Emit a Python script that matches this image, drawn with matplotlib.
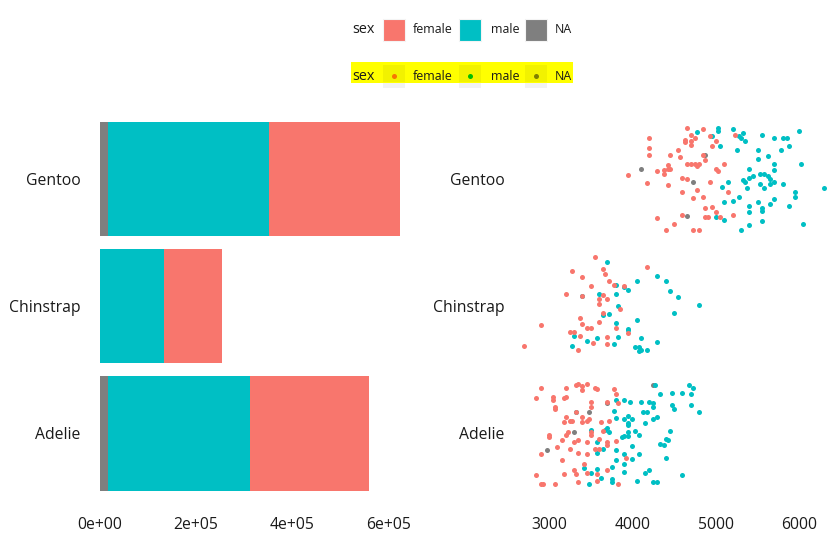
import matplotlib
matplotlib.use('Agg')
import matplotlib.pyplot as plt
from matplotlib.patches import Rectangle
import numpy as np

plt.rcParams['font.family'] = ['Open Sans', 'DejaVu Sans']

# ---------------- data ----------------
species = ['Adelie', 'Chinstrap', 'Gentoo']
sex_levels = ['female', 'male', 'NA']
sum_female = [245925, 119925, 271425]
sum_male = [295175, 133925, 334575]
sum_na = [17700, 0, 18350]
bar_ticks = [0, 200000, 400000, 600000]
bar_tick_labels = ['0e+00', '2e+05', '4e+05', '6e+05']
mass_ticks = [3000, 4000, 5000, 6000]

gentoo_female_mass = [4650, 4850, 4700, 4750, 4925, 4200, 4625, 4625, 4700, 4700,
                      5000, 5225, 4950, 4200, 4550, 4200, 4450, 4575, 4850, 4875,
                      4650, 4700, 4750, 4775, 4800, 4425, 4300, 4375, 4375, 4425,
                      4450, 5000, 5025, 5100, 3950, 4600, 4650, 4175, 4425, 4925,
                      4600, 4775, 5150, 4725, 4850, 4875, 4950, 5000, 4600, 4875,
                      4900, 5050, 5200, 4300, 4500, 4400, 4725, 4800]
gentoo_female_jit = [.40, .39, .35, .32, .34, .32, .31, .29, .30, .27,
                     .30, .35, .26, .24, .23, .19, .19, .17, .19, .15,
                     .12, .12, .12, .10, .12, .11, .06, .07, .04, .08,
                     .08, .08, .06, .12, .03, .01, .00, -.03, -.05, -.02,
                     -.10, -.09, -.10, -.15, -.14, -.23, -.22, -.26, -.28, -.30,
                     -.30, -.30, -.28, -.31, -.35, -.40, -.40, -.40]
gentoo_na_mass = [4100, 4875, 4725, 4650]
gentoo_na_jit = [0.08, 0.19, -0.02, -0.29]
gentoo_male_mass = [4775, 5025, 5025, 4950, 5200, 5325, 5275, 5300, 5350, 5050,
                    5250, 5550, 5700, 5800, 5850, 6000, 5875, 5775, 5500, 5500,
                    5625, 5700, 6025, 5400, 5700, 5450, 5400, 5525, 5575, 5625,
                    5650, 5700, 5325, 5350, 5375, 5525, 5575, 5650, 5800, 5150,
                    5075, 6300, 5950, 5950, 5275, 5200, 5100, 5500, 5400, 5550,
                    5550, 5650, 5700, 5875, 5400, 5000, 5100, 5550, 5400, 6050, 5300]
gentoo_male_jit = [.37, .40, .38, .34, .39, .36, .34, .32, .30, .26,
                   .23, .35, .32, .32, .32, .38, .26, .23, .23, .16,
                   .18, .12, .12, .08, .07, .02, .01, .04, .04, .02,
                   .00, -.02, -.01, -.02, -.07, -.04, -.07, -.04, -.04, -.02,
                   -.06, -.07, -.10, -.14, -.14, -.17, -.18, -.18, -.21, -.23,
                   -.25, -.20, -.16, -.21, -.26, -.30, -.32, -.33, -.36, -.35, -.40]

chinstrap_female_mass = [3550, 4175, 3275, 3650, 3675, 3400, 3725, 3500, 3775, 3900,
                         3200, 3400, 3650, 3700, 3600, 3600, 3850, 3650, 3375, 3600,
                         3400, 3450, 3500, 2900, 3800, 3250, 3300, 3375, 3950, 3700,
                         3525, 3700, 2700, 3350]
chinstrap_female_jit = [.39, .31, .28, .29, .25, .23, .20, .16, .17, .16,
                        .10, .08, .09, .06, .06, .02, -.02, -.05, -.09, -.12,
                        -.14, -.17, -.17, -.15, -.17, -.20, -.20, -.23, -.21, -.24,
                        -.29, -.30, -.31, -.34]
chinstrap_male_mass = [3700, 3800, 4050, 3950, 4300, 4400, 4450, 4550, 4800, 4500,
                       3600, 3800, 3400, 3825, 3650, 3725, 4050, 3800, 3950, 3950,
                       3300, 3825, 3450, 3575, 4100, 4300, 3275, 3775, 4025, 4075,
                       4075, 4100, 4175, 3900]
chinstrap_male_jit = [.35, .17, .20, .13, .24, .20, .12, .07, .01, -.05,
                      .10, .10, .08, .00, -.07, -.06, -.11, -.13, -.18, -.19,
                      -.23, -.24, -.27, -.25, -.25, -.28, -.31, -.30, -.32, -.32,
                      -.35, -.34, -.34, .15]

adelie_na_mass = [3475, 3300, 2975, 3700, 4250]
adelie_na_jit = [0.17, 0.01, -0.13, 0.24, 0.38]
adelie_female_mass = [2900, 3200, 3325, 3350, 3400, 3400, 3450, 3550, 3575, 3775,
                      3800, 2850, 3050, 3050, 3175, 3200, 3500, 3500, 3700, 3825,
                      3075, 3075, 3200, 3325, 3175, 3250, 3275, 3400, 3400, 3450,
                      3475, 3625, 3725, 3000, 3000, 3150, 3200, 3225, 3300, 3350,
                      3450, 3500, 3500, 3600, 3650, 3700, 3700, 3800, 3100, 3250,
                      3350, 3450, 3550, 3600, 2900, 3150, 3925, 3425, 3300, 3325,
                      3175, 3450, 3575, 3700, 2850, 3350, 3575, 2900, 2925, 3075, 3825]
adelie_female_jit = [.36, .36, .38, .39, .37, .34, .39, .36, .35, .35,
                     .31, .28, .29, .26, .28, .29, .25, .21, .25, .24,
                     .21, .19, .13, .17, .09, .10, .10, .09, .13, .10,
                     .11, .09, .10, -.01, -.03, -.05, -.01, .01, -.07, -.05,
                     -.07, .01, -.01, -.04, .02, -.07, -.09, -.06, -.11, -.12,
                     -.15, -.16, -.12, -.12, -.16, -.21, -.19, -.24, -.29, -.32,
                     -.32, -.31, -.32, -.29, -.33, -.38, -.37, -.40, -.40, -.40, -.40]
adelie_male_mass = [4275, 4675, 4725, 4325, 4475, 4600, 4700, 3800, 3900, 3975,
                    4100, 4200, 4250, 4250, 4475, 4500, 4700, 4800, 3325, 3775,
                    4125, 4175, 3800, 3900, 3950, 4000, 3950, 3950, 4150, 4250,
                    4300, 3500, 3675, 3700, 3725, 3950, 4025, 3875, 3900, 3950,
                    4075, 4450, 4400, 4425, 4325, 4375, 3575, 3575, 3650, 3800,
                    4000, 3900, 4075, 4000, 3800, 4400, 3750, 3900, 3900, 3425,
                    3575, 3500, 4150, 4200, 4600, 3625, 3750, 3750, 4050, 4250, 4300, 3475]
adelie_male_jit = [.38, .38, .36, .31, .32, .32, .31, .26, .26, .25,
                   .25, .25, .24, .21, .22, .19, .22, .17, .17, .18,
                   .17, .17, .12, .11, .14, .11, .08, .07, .08, .11,
                   .13, .03, .03, .04, .01, .01, .02, -.03, -.02, -.02,
                   -.01, .02, -.04, -.05, -.08, -.09, -.07, -.15, -.12, -.13,
                   -.10, -.16, -.16, -.20, -.21, -.19, -.26, -.24, -.30, -.27,
                   -.28, -.31, -.31, -.29, -.33, -.35, -.36, -.38, -.37, -.38, -.38, -.40]

colors = {'female': '#F8766D', 'male': '#00BFC4', 'NA': '#7F7F7F'}
hl_colors = {'female': '#F87600', 'male': '#00BF00', 'NA': '#7F7F00'}
text_color = '#1a1a1a'

# ---------------- figure ----------------
W, H = 838, 542
fig = plt.figure(figsize=(W / 100, H / 100), dpi=100)

ax_b = 509.8
ax_t = 102.7
ax_h = (ax_b - ax_t) / H
ax_y0 = (H - ax_b) / H

ax1 = fig.add_axes([84.5 / W, ax_y0, 330.7 / W, ax_h])
ax2 = fig.add_axes([508.95 / W, ax_y0, 330.4 / W, ax_h])

ypos = np.arange(1, len(species) + 1)

# stacked bars: NA nearest zero, then male, then female
na = np.array(sum_na)
ml = np.array(sum_male)
fm = np.array(sum_female)
ax1.barh(ypos, na, height=0.9, color=colors['NA'], linewidth=0)
ax1.barh(ypos, ml, left=na, height=0.9, color=colors['male'], linewidth=0)
ax1.barh(ypos, fm, left=na + ml, height=0.9, color=colors['female'], linewidth=0)
tot = (na + ml + fm).max()
ax1.set_xlim(-0.05 * tot, 1.05 * tot)
ax1.set_xticks(bar_ticks)
ax1.set_xticklabels(bar_tick_labels)

# jittered points
groups = [
    (1, adelie_na_mass, adelie_na_jit, 'NA'),
    (1, adelie_male_mass, adelie_male_jit, 'male'),
    (1, adelie_female_mass, adelie_female_jit, 'female'),
    (2, chinstrap_male_mass, chinstrap_male_jit, 'male'),
    (2, chinstrap_female_mass, chinstrap_female_jit, 'female'),
    (3, gentoo_na_mass, gentoo_na_jit, 'NA'),
    (3, gentoo_male_mass, gentoo_male_jit, 'male'),
    (3, gentoo_female_mass, gentoo_female_jit, 'female'),
]
for yc, m, j, s in groups:
    ax2.scatter(m, yc + np.array(j), s=13, color=colors[s], linewidths=0, zorder=3)
ax2.set_xlim(2520, 6480)
ax2.set_xticks(mass_ticks)

for ax in (ax1, ax2):
    ax.set_ylim(0.4, 3.6)
    ax.set_yticks(ypos)
    ax.set_yticklabels(species)
    for sp in ax.spines.values():
        sp.set_visible(False)
    ax.tick_params(length=0, labelsize=11.3, colors=text_color)
    ax.tick_params(axis='x', pad=5.5)
    ax.tick_params(axis='y', pad=3)
    ax.set_facecolor('none')

# ---------------- legends (overlay in pixel space) ----------------
ov = fig.add_axes([0, 0, 1, 1], zorder=10)
ov.set_xlim(0, W)
ov.set_ylim(H, 0)
ov.axis('off')
ov.patch.set_alpha(0)

key_x = [383.4, 459.3, 525.3]
lab_x = [413.0, 490.5, 555.0]
ksz = 22

# legend 1 (fill)
ly1 = 29.5
ov.text(352, ly1, 'sex', fontsize=10.4, va='center', ha='left', color=text_color)
for kx, lx, s in zip(key_x, lab_x, sex_levels):
    ov.add_patch(Rectangle((kx, ly1 - ksz / 2), ksz, ksz, facecolor=colors[s],
                           edgecolor='#f4f4f4', linewidth=0.8))
    ov.text(lx, ly1, s, fontsize=8.9, va='center', ha='left', color=text_color)

# legend 2 (points, highlighted)
ly2 = 76
ov.add_patch(Rectangle((351, 62), 222, 20.5, facecolor='#FFFF00', edgecolor='none'))
for kx, lx, s in zip(key_x, lab_x, sex_levels):
    ov.add_patch(Rectangle((kx, 82.5), ksz, 5.5, facecolor='#F2F2F2', edgecolor='none'))
    ov.add_patch(Rectangle((kx, 64.7), ksz, 82.5 - 64.7, facecolor='#F2F200', edgecolor='none'))
    ov.scatter([kx + ksz / 2], [ly2 + 0.3], s=13, color=hl_colors[s], linewidths=0)
    ov.text(lx, ly2, s, fontsize=8.9, va='center', ha='left', color=text_color)
ov.text(352, ly2, 'sex', fontsize=10.4, va='center', ha='left', color=text_color)

fig.savefig('out.png', dpi=100, facecolor='white')
